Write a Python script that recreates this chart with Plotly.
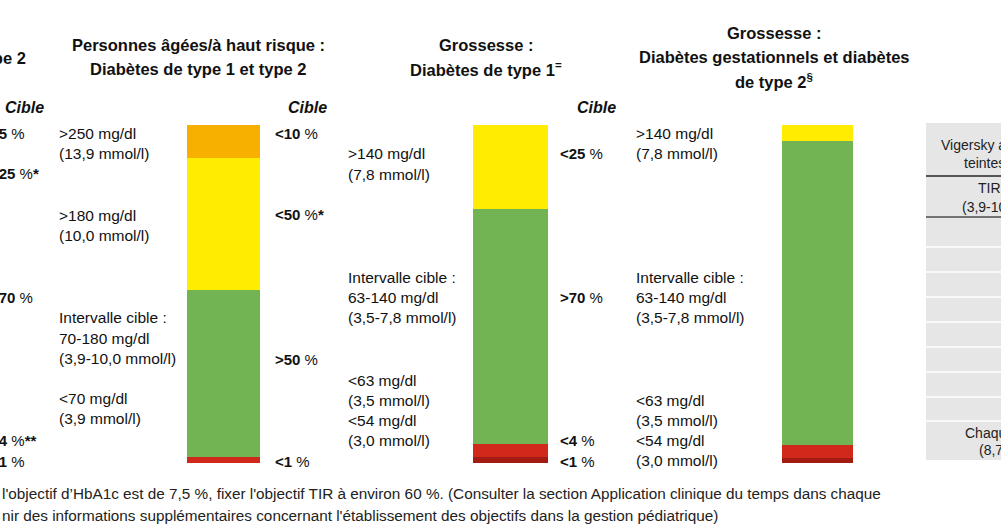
import plotly.graph_objects as go

W, H = 1001, 526

# ---- data: stacked segment heights (% of bar) for the three panels ----
panels = ["Personnes âgées", "Grossesse T1", "Grossesse gestationnel/T2"]
very_low = [0.0, 1.8, 1.5]     # dark red
low = [1.8, 3.8, 3.8]          # red
in_range = [49.4, 69.5, 89.9]  # green
high = [39.0, 24.9, 5.3]       # yellow
very_high = [9.8, 0.0, 0.0]    # orange

# ---- layout constants (pixel geometry) ----
bar_x = [223.5, 510.5, 817.5]
bar_w = [73, 75, 71]
bar_bottom_px, bar_top_px = 463, 125

FONT = "Liberation Sans"
TXT = "#111111"

def xp(px):
    return px / W

def yp(py):
    return 1 - py / H

fig = go.Figure()
series = [
    ("Très bas", very_low, "#A31B12"),
    ("Bas", low, "#D0291C"),
    ("Intervalle cible", in_range, "#72B354"),
    ("Élevé", high, "#FFEC00"),
    ("Très élevé", very_high, "#F8B000"),
]
for name, vals, col in series:
    fig.add_trace(go.Bar(
        x=bar_x, y=vals, width=bar_w, name=name,
        marker=dict(color=col, line=dict(width=0)),
        hoverinfo="skip", showlegend=False,
    ))

annotations = []

def txt(px, py, s, size=15.5, anchor="left", color=TXT, family=FONT):
    annotations.append(dict(
        x=xp(px), y=yp(py), xref="paper", yref="paper", text=s,
        showarrow=False, xanchor=anchor, yanchor="middle",
        font=dict(family=family, size=size, color=color),
        align=anchor if anchor != "center" else "center",
    ))

def val(px, py, num, suffix=""):
    txt(px, py, f"<b>{num}</b> %" + (f"<b>{suffix}</b>" if suffix else ""), size=15)

# ---- titles ----
TS = 16.5
txt(28, 58, "<b>Diabètes de type 2</b>", size=TS, anchor="right")
txt(198, 45, "<b>Personnes âgées/à haut risque :</b>", size=TS, anchor="center")
txt(198, 69, "<b>Diabètes de type 1 et type 2</b>", size=TS, anchor="center")
txt(486, 45, "<b>Grossesse :</b>", size=TS, anchor="center")
txt(486, 69, "<b>Diabètes de type 1<sup>=</sup></b>", size=TS, anchor="center")
txt(774, 33, "<b>Grossesse :</b>", size=TS, anchor="center")
txt(774, 57, "<b>Diabètes gestationnels et diabètes</b>", size=TS, anchor="center")
txt(774, 81, "<b>de type 2<sup>§</sup></b>", size=TS, anchor="center")

# ---- "Cible" headers ----
for x in (3, 286, 575):
    txt(x, 107, "<b><i>Cible</i></b>", size=16)

# ---- left partial column ----
val(-12, 133, "&lt;5")
val(-12, 173, "&lt;25", "*")
val(-12, 297, "&gt;70")
val(-12, 440, "&lt;4", "**")
val(-12, 461, "&lt;1")

# ---- panel 1 ----
L1 = 57
txt(L1, 133, "&gt;250 mg/dl")
txt(L1, 153, "(13,9 mmol/l)")
txt(L1, 215, "&gt;180 mg/dl")
txt(L1, 235, "(10,0 mmol/l)")
txt(L1, 317, "Intervalle cible :")
txt(L1, 338, "70-180 mg/dl")
txt(L1, 358, "(3,9-10,0 mmol/l)")
txt(L1, 398, "&lt;70 mg/dl")
txt(L1, 418, "(3,9 mmol/l)")
R1 = 273
val(R1, 133, "&lt;10")
val(R1, 214, "&lt;50", "*")
val(R1, 359, "&gt;50")
val(R1, 461, "&lt;1")

# ---- panel 2 ----
L2 = 346
txt(L2, 154, "&gt;140 mg/dl")
txt(L2, 174, "(7,8 mmol/l)")
txt(L2, 277, "Intervalle cible :")
txt(L2, 297, "63-140 mg/dl")
txt(L2, 317, "(3,5-7,8 mmol/l)")
txt(L2, 380, "&lt;63 mg/dl")
txt(L2, 400, "(3,5 mmol/l)")
txt(L2, 420, "&lt;54 mg/dl")
txt(L2, 440, "(3,0 mmol/l)")
R2 = 558
val(R2, 154, "&lt;25")
val(R2, 297, "&gt;70")
val(R2, 440, "&lt;4")
val(R2, 461, "&lt;1")

# ---- panel 3 ----
L3 = 634
txt(L3, 133, "&gt;140 mg/dl")
txt(L3, 153, "(7,8 mmol/l)")
txt(L3, 277, "Intervalle cible :")
txt(L3, 297, "63-140 mg/dl")
txt(L3, 317, "(3,5-7,8 mmol/l)")
txt(L3, 400, "&lt;63 mg/dl")
txt(L3, 420, "(3,5 mmol/l)")
txt(L3, 440, "&lt;54 mg/dl")
txt(L3, 460, "(3,0 mmol/l)")

# ---- grey table on the right (clipped) ----
shapes = []
shapes.append(dict(type="rect", xref="paper", yref="paper", x0=xp(926), x1=xp(1010),
                   y0=yp(460), y1=yp(123), fillcolor="#E7E6E6", line=dict(width=0), layer="below"))
shapes.append(dict(type="line", xref="paper", yref="paper", x0=xp(926), x1=xp(1010),
                   y0=yp(176), y1=yp(176), line=dict(color="#555555", width=2)))
shapes.append(dict(type="line", xref="paper", yref="paper", x0=xp(926), x1=xp(1010),
                   y0=yp(217), y1=yp(217), line=dict(color="#000000", width=1.2)))
for yy in (247, 272, 297, 322, 347, 372, 397, 421):
    shapes.append(dict(type="line", xref="paper", yref="paper", x0=xp(926), x1=xp(1010),
                       y0=yp(yy), y1=yp(yy), line=dict(color="#FFFFFF", width=1.5)))
TB = 14
txt(939, 145, "Vigersky and McMahon", size=TB, color="#222222")
txt(962, 163, "teintes grises de référence", size=TB, color="#222222")
txt(976, 188, "TIR 70-180 mg/dl", size=TB, color="#222222")
txt(960, 207, "(3,9-10,0 mmol/l)", size=TB, color="#222222")
txt(963, 433, "Chaque 10 %", size=TB, color="#222222")
txt(977, 450, "(8,7 mmol/l)", size=TB, color="#222222")

# ---- footnote ----
txt(0, 493, "l'objectif d’HbA1c est de 7,5 %, fixer l'objectif TIR à environ 60 %. (Consulter la section Application clinique du temps dans chaque",
    size=15.3, color="#222222")
txt(0, 515, "nir des informations supplémentaires concernant l'établissement des objectifs dans la gestion pédiatrique)",
    size=15.3, color="#222222")

dom0 = (H - bar_bottom_px) / H
dom1 = (H - bar_top_px) / H
fig.update_layout(
    width=W, height=H,
    margin=dict(l=0, r=0, t=0, b=0),
    paper_bgcolor="white", plot_bgcolor="rgba(0,0,0,0)",
    barmode="stack", bargap=0,
    xaxis=dict(range=[0, W], domain=[0, 1], visible=False, fixedrange=True),
    yaxis=dict(range=[0, 100], domain=[dom0, dom1], visible=False, fixedrange=True),
    annotations=annotations, shapes=shapes,
    showlegend=False,
)
fig.write_html(
    "out.html",
    config={"displayModeBar": False},
    post_script="document.body.style.margin='0';document.body.style.overflow='hidden';",
)
